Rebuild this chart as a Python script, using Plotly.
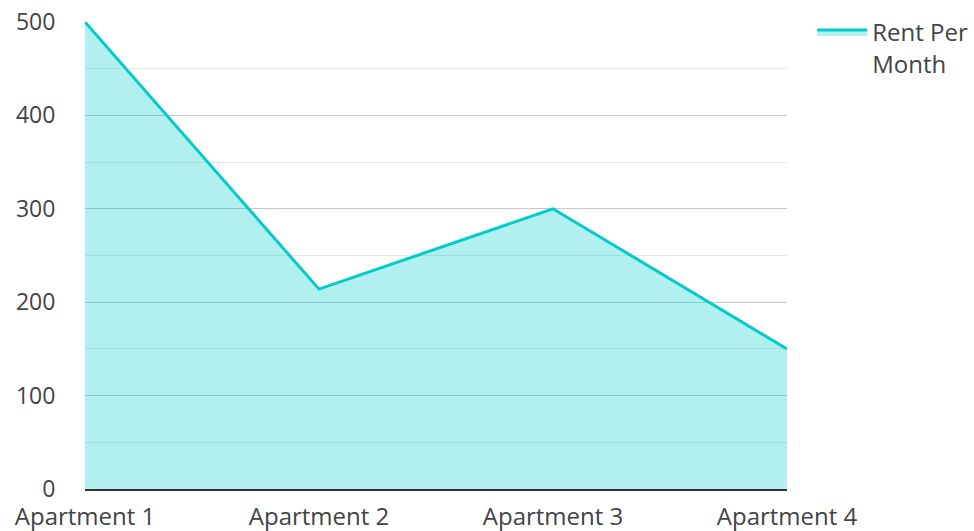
import plotly.graph_objects as go

categories = ["Apartment 1", "Apartment 2", "Apartment 3", "Apartment 4"]
rent = [500, 214, 300, 150]
series_name = "Rent Per<br>Month"

fig = go.Figure()
fig.add_trace(go.Scatter(
    x=categories, y=rent, name=series_name, mode="lines",
    line=dict(color="#00cccc", width=3),
    fill="tozeroy", fillcolor="rgba(0,204,204,0.3)",
))

fig.update_layout(
    width=974, height=531,
    margin=dict(l=85, r=187, t=22, b=42, autoexpand=False),
    paper_bgcolor="white", plot_bgcolor="white",
    font=dict(family="Open Sans", size=24, color="#444"),
    showlegend=True,
    legend=dict(x=1.036, y=1.026, xanchor="left", yanchor="top", itemwidth=50,
                valign="top",
                font=dict(size=24, color="#444"), bgcolor="rgba(0,0,0,0)"),
    xaxis=dict(range=[0, 3], showgrid=False, showline=True, linecolor="#333",
               linewidth=2, ticks="outside", ticklen=5, tickcolor="rgba(0,0,0,0)",
               tickfont=dict(size=24), zeroline=False, automargin=False),
    yaxis=dict(range=[0, 500], dtick=100, showgrid=True, gridcolor="#c8c8c8",
               gridwidth=1, zeroline=False, ticks="outside", ticklen=24,
               tickcolor="rgba(0,0,0,0)", tickfont=dict(size=23), automargin=False,
               minor=dict(dtick=50, showgrid=True, gridcolor="#e6e6e6", gridwidth=1)),
)

fig.write_html("out.html", config={"displayModeBar": False},
               post_script="document.body.style.margin='0';")
